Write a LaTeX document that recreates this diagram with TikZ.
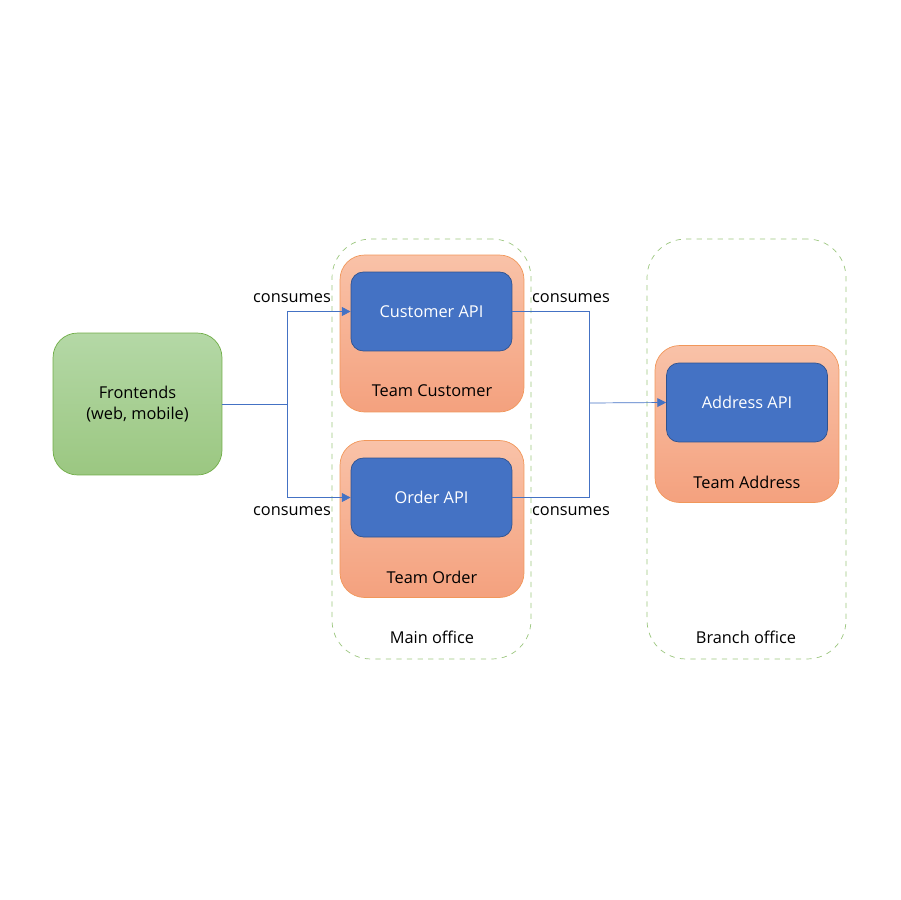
\documentclass[tikz,border=0pt]{standalone}
\usepackage{fontspec}
\setmainfont{Open Sans}
\usetikzlibrary{positioning, arrows.meta}
\definecolor{apiblue}{HTML}{4472C4}
\definecolor{apiedge}{HTML}{2F528F}
\definecolor{teamtop}{HTML}{F9C2A8}
\definecolor{teambot}{HTML}{F4A17E}
\definecolor{teamedge}{HTML}{ED7D31}
\definecolor{fetop}{HTML}{B4D8A6}
\definecolor{febot}{HTML}{9BC781}
\definecolor{feedge}{HTML}{70AD47}
\tikzset{
  office/.style={draw=feedge!70, dashed, rounded corners=22, minimum width=3.98cm, minimum height=8.4cm},
  team/.style={draw=teamedge!80, top color=teamtop, bottom color=teambot, rounded corners=14, minimum width=3.68cm, minimum height=3.14cm},
  api/.style={draw=apiedge, fill=apiblue, text=white, rounded corners=7, minimum width=3.22cm, minimum height=1.58cm},
  front/.style={draw=feedge, top color=fetop, bottom color=febot, rounded corners=14, minimum width=3.38cm, minimum height=2.84cm, align=center},
  link/.style={draw=apiblue, -{Triangle[length=5pt,width=5pt]}},
  lbl/.style={}
}
\begin{document}
\begin{tikzpicture}[x=0.02cm, y=-0.02cm, font=\fontsize{9.3}{11.5}\selectfont]
  \useasboundingbox (0,0) rectangle (900,900);
  % offices
  \node[office] (main) at (431.5,449) {};
  \node[office] (branch) at (746.5,449) {};
  \node[lbl] at (432,637) {Main office};
  \node[lbl] at (746,637) {Branch office};
  % teams
  \node[team] (tcust) at (432,333.5) {};
  \node[team] (tord) at (432,519) {};
  \node[team] (taddr) at (747,424) {};
  \node[lbl] at (432,391) {Team Customer};
  \node[lbl] at (432,577) {Team Order};
  \node[lbl] at (747,482) {Team Address};
  % apis
  \node[api] (cust) at (431.5,311.5) {Customer API};
  \node[api] (ord) at (431.5,497.5) {Order API};
  \node[api] (addr) at (747,402.5) {Address API};
  \node[front] (fe) at (137.5,404) {Frontends\\(web, mobile)};
  % connectors
  \coordinate (fj) at (287,404);
  \coordinate (aj) at (589,403);
  \draw[draw=apiblue] (fe.east) -- (fj);
  \draw[link] (fj) |- (cust.west);
  \draw[link] (fj) |- (ord.west);
  \draw[draw=apiblue] (cust.east) -| (aj);
  \draw[draw=apiblue] (ord.east) -| (aj);
  \draw[link] (aj) -- (addr.west);
  % labels
  \node[lbl] at (292,298) {consumes};
  \node[lbl] at (292,511) {consumes};
  \node[lbl] at (571,298) {consumes};
  \node[lbl] at (571,511) {consumes};
\end{tikzpicture}
\end{document}
